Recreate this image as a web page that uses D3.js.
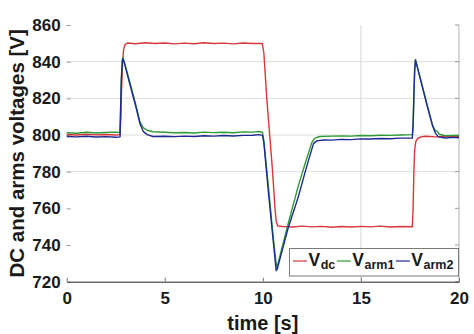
<!DOCTYPE html>
<html>
<head>
<meta charset="utf-8">
<script src="https://cdn.jsdelivr.net/npm/d3@7"></script>
<style>
  html, body { margin: 0; padding: 0; background: #fff; }
  svg { display: block; }
  text { font-family: "Liberation Sans", Arial, sans-serif; font-weight: bold; fill: #1a1a1a; }
</style>
</head>
<body>
<svg id="chart" width="474" height="334"></svg>
<script>
// ---- data (time [s], voltage [V]) ----
const xTicks = [0, 5, 10, 15, 20];
const yTicks = [720, 740, 760, 780, 800, 820, 840, 860];
const yGrid = [780, 800, 820, 840];
const xGrid = [15];
const seriesNames = ["dc", "arm1", "arm2"];
const seriesColors = ["#d8383c", "#2f9a35", "#1e2a8f"];

const vdc = [
  [0, 800.3], [0.5, 800.0], [1, 800.4], [1.5, 800.1], [2, 800.3], [2.5, 800.0], [2.72, 800.2],
  [2.76, 810], [2.8, 826], [2.85, 840], [2.9, 846.5], [2.97, 849.3], [3.1, 850.2],
  [3.5, 849.8], [4, 850.3], [4.5, 849.9], [5, 850.2], [5.5, 849.7], [6, 850.1], [6.5, 849.8],
  [7, 850.3], [7.5, 849.9], [8, 850.1], [8.5, 849.7], [9, 850.2], [9.5, 849.9], [9.97, 850.0],
  [10.05, 845], [10.2, 820], [10.49, 781], [10.62, 760], [10.68, 753], [10.76, 750.4],
  [11, 750.1], [11.5, 749.8], [12, 750.3], [12.5, 749.9], [13, 750.2], [13.5, 749.7], [14, 750.1],
  [14.5, 749.8], [15, 750.2], [15.5, 749.9], [16, 750.3], [16.5, 749.8], [17, 750.1], [17.62, 750.0],
  [17.66, 760], [17.7, 780], [17.74, 792], [17.8, 796.5], [17.9, 798.2], [18.05, 799.0],
  [18.3, 799.3], [18.8, 799.0], [19.3, 799.4], [20, 799.2]
];

const varm1 = [
  [0, 801.2], [0.5, 801.0], [1, 801.5], [1.5, 801.1], [2, 801.4], [2.5, 801.6], [2.72, 801.4],
  [2.75, 815], [2.79, 832], [2.84, 841.5], [2.87, 842.3], [2.95, 839.5], [3.2, 829.5],
  [3.5, 817.5], [3.74, 807], [3.9, 804], [4.1, 802.6], [4.4, 801.8], [5, 801.5], [5.5, 801.2],
  [6, 801.4], [6.5, 801.1], [7, 801.6], [7.5, 801.3], [8, 801.5], [8.5, 801.2], [9, 801.7],
  [9.5, 801.6], [9.8, 801.9], [9.98, 801.5], [10.05, 797], [10.3, 770], [10.55, 742],
  [10.7, 728], [10.75, 729], [11.3, 752], [11.8, 772], [12.2, 786], [12.5, 796], [12.65, 798.3],
  [12.9, 799.2], [13.5, 799.4], [14, 799.5], [14.5, 799.4], [15, 799.7], [15.5, 799.6],
  [16, 799.9], [16.5, 799.8], [17, 800.0], [17.62, 800.2], [17.66, 805], [17.7, 822],
  [17.74, 836], [17.78, 841.2], [17.85, 838.5], [18.1, 828], [18.4, 815.5], [18.65, 805.5],
  [18.78, 802.6], [18.88, 802.1], [19.0, 800.4], [19.3, 799.6], [19.7, 799.8], [20, 799.6]
];

const varm2 = [
  [0, 799.2], [0.5, 799.0], [1, 799.3], [1.5, 798.9], [2, 799.1], [2.5, 798.8], [2.72, 799.0],
  [2.75, 815], [2.79, 831], [2.84, 840.8], [2.87, 841.6], [2.95, 838.8], [3.2, 828.5],
  [3.5, 816.5], [3.74, 806], [3.9, 802], [4.1, 800.2], [4.4, 799.2], [5, 799.3], [5.5, 799.1],
  [6, 799.4], [6.5, 799.2], [7, 799.6], [7.5, 799.4], [8, 799.7], [8.5, 799.5], [9, 799.8],
  [9.5, 799.9], [9.8, 800.2], [9.98, 799.8], [10.05, 796], [10.3, 767], [10.55, 740],
  [10.68, 726], [10.73, 726.8], [11.31, 750], [11.8, 766], [12.24, 783], [12.58, 795.3],
  [12.75, 796.8], [13.1, 797.3], [13.5, 797.2], [14, 797.6], [14.5, 797.5], [15, 797.9],
  [15.5, 797.8], [16, 798.1], [16.5, 798.0], [17, 798.3], [17.62, 798.3], [17.66, 805],
  [17.7, 821], [17.74, 835], [17.78, 840.8], [17.85, 838], [18.1, 827.5], [18.4, 815],
  [18.65, 805], [18.8, 801], [18.95, 799], [19.3, 798.4], [19.7, 798.7], [20, 798.5]
];

const allSeries = [vdc, varm1, varm2];

// ---- layout ----
const svg = d3.select("#chart");
const L = 66.7, R = 459, T = 25, B = 281.7;
const x = d3.scaleLinear().domain([0, 20]).range([L, R]);
const y = d3.scaleLinear().domain([720, 860]).range([B, T]);

// grid
svg.append("g").selectAll("line").data(yGrid).join("line")
  .attr("x1", L).attr("x2", R).attr("y1", d => y(d)).attr("y2", d => y(d))
  .attr("stroke", "#dedede").attr("stroke-width", 1);
svg.append("g").selectAll("line").data(xGrid).join("line")
  .attr("x1", d => x(d)).attr("x2", d => x(d)).attr("y1", T).attr("y2", B)
  .attr("stroke", "#d6d6d6").attr("stroke-width", 1);

// right border
svg.append("line").attr("x1", R).attr("x2", R).attr("y1", T).attr("y2", B)
  .attr("stroke", "#b5b5b5").attr("stroke-width", 1);
svg.append("g").selectAll("line").data(yTicks).join("line")
  .attr("x1", R - 4).attr("x2", R).attr("y1", d => y(d)).attr("y2", d => y(d))
  .attr("stroke", "#9a9a9a");

// left axis
const yAxis = d3.axisLeft(y).tickValues(yTicks).tickSizeInner(-4).tickSizeOuter(0).tickPadding(6);
const gy = svg.append("g").attr("transform", `translate(${L},0)`).call(yAxis);
gy.select(".domain").remove();
gy.selectAll(".tick line").attr("stroke", "#9a9a9a");
gy.selectAll(".tick text").style("font-size", "17px").attr("fill", "#1a1a1a")
  .style("font-family", "'Liberation Sans', Arial, sans-serif").style("font-weight", "bold");

// bottom axis
const xAxis = d3.axisBottom(x).tickValues(xTicks).tickSizeInner(-4).tickSizeOuter(0).tickPadding(10);
const gx = svg.append("g").attr("transform", `translate(0,${B})`).call(xAxis);
gx.select(".domain").attr("stroke", "#262626");
gx.selectAll(".tick line").attr("stroke", "#777");
gx.selectAll(".tick text").style("font-size", "17px").attr("fill", "#1a1a1a")
  .style("font-family", "'Liberation Sans', Arial, sans-serif").style("font-weight", "bold");

// lines
const line = d3.line().x(d => x(d[0])).y(d => y(d[1]));
svg.append("g").selectAll("path").data(allSeries).join("path")
  .attr("d", line).attr("fill", "none")
  .attr("stroke", (d, i) => seriesColors[i]).attr("stroke-width", 1.4)
  .attr("stroke-linejoin", "round");

// titles
svg.append("text").attr("x", (L + R) / 2).attr("y", 329.5).attr("text-anchor", "middle")
  .style("font-size", "20px").text("time [s]");
svg.append("text").attr("transform", `translate(24,${(T + B) / 2 + 0}) rotate(-90)`)
  .attr("text-anchor", "middle").style("font-size", "20.5px").text("DC and arms voltages [V]");

// legend
const lg = svg.append("g");
lg.append("rect").attr("x", 289.5).attr("y", 248.5).attr("width", 169).attr("height", 27.5)
  .attr("fill", "#fff").attr("stroke", "#7a7a7a").attr("stroke-width", 1);
let cx = 293;
seriesNames.forEach((name, i) => {
  lg.append("line").attr("x1", cx).attr("x2", cx + 14).attr("y1", 261).attr("y2", 261)
    .attr("stroke", seriesColors[i]).attr("stroke-width", 1.2);
  cx += 15.5;
  const v = lg.append("text").attr("x", cx).attr("y", 265.5).style("font-size", "17.5px").text("V");
  cx += v.node().getComputedTextLength() + 0.5;
  const s = lg.append("text").attr("x", cx).attr("y", 269).style("font-size", "12.5px").text(name);
  cx += s.node().getComputedTextLength() + 1.5;
});
</script>
</body>
</html>
